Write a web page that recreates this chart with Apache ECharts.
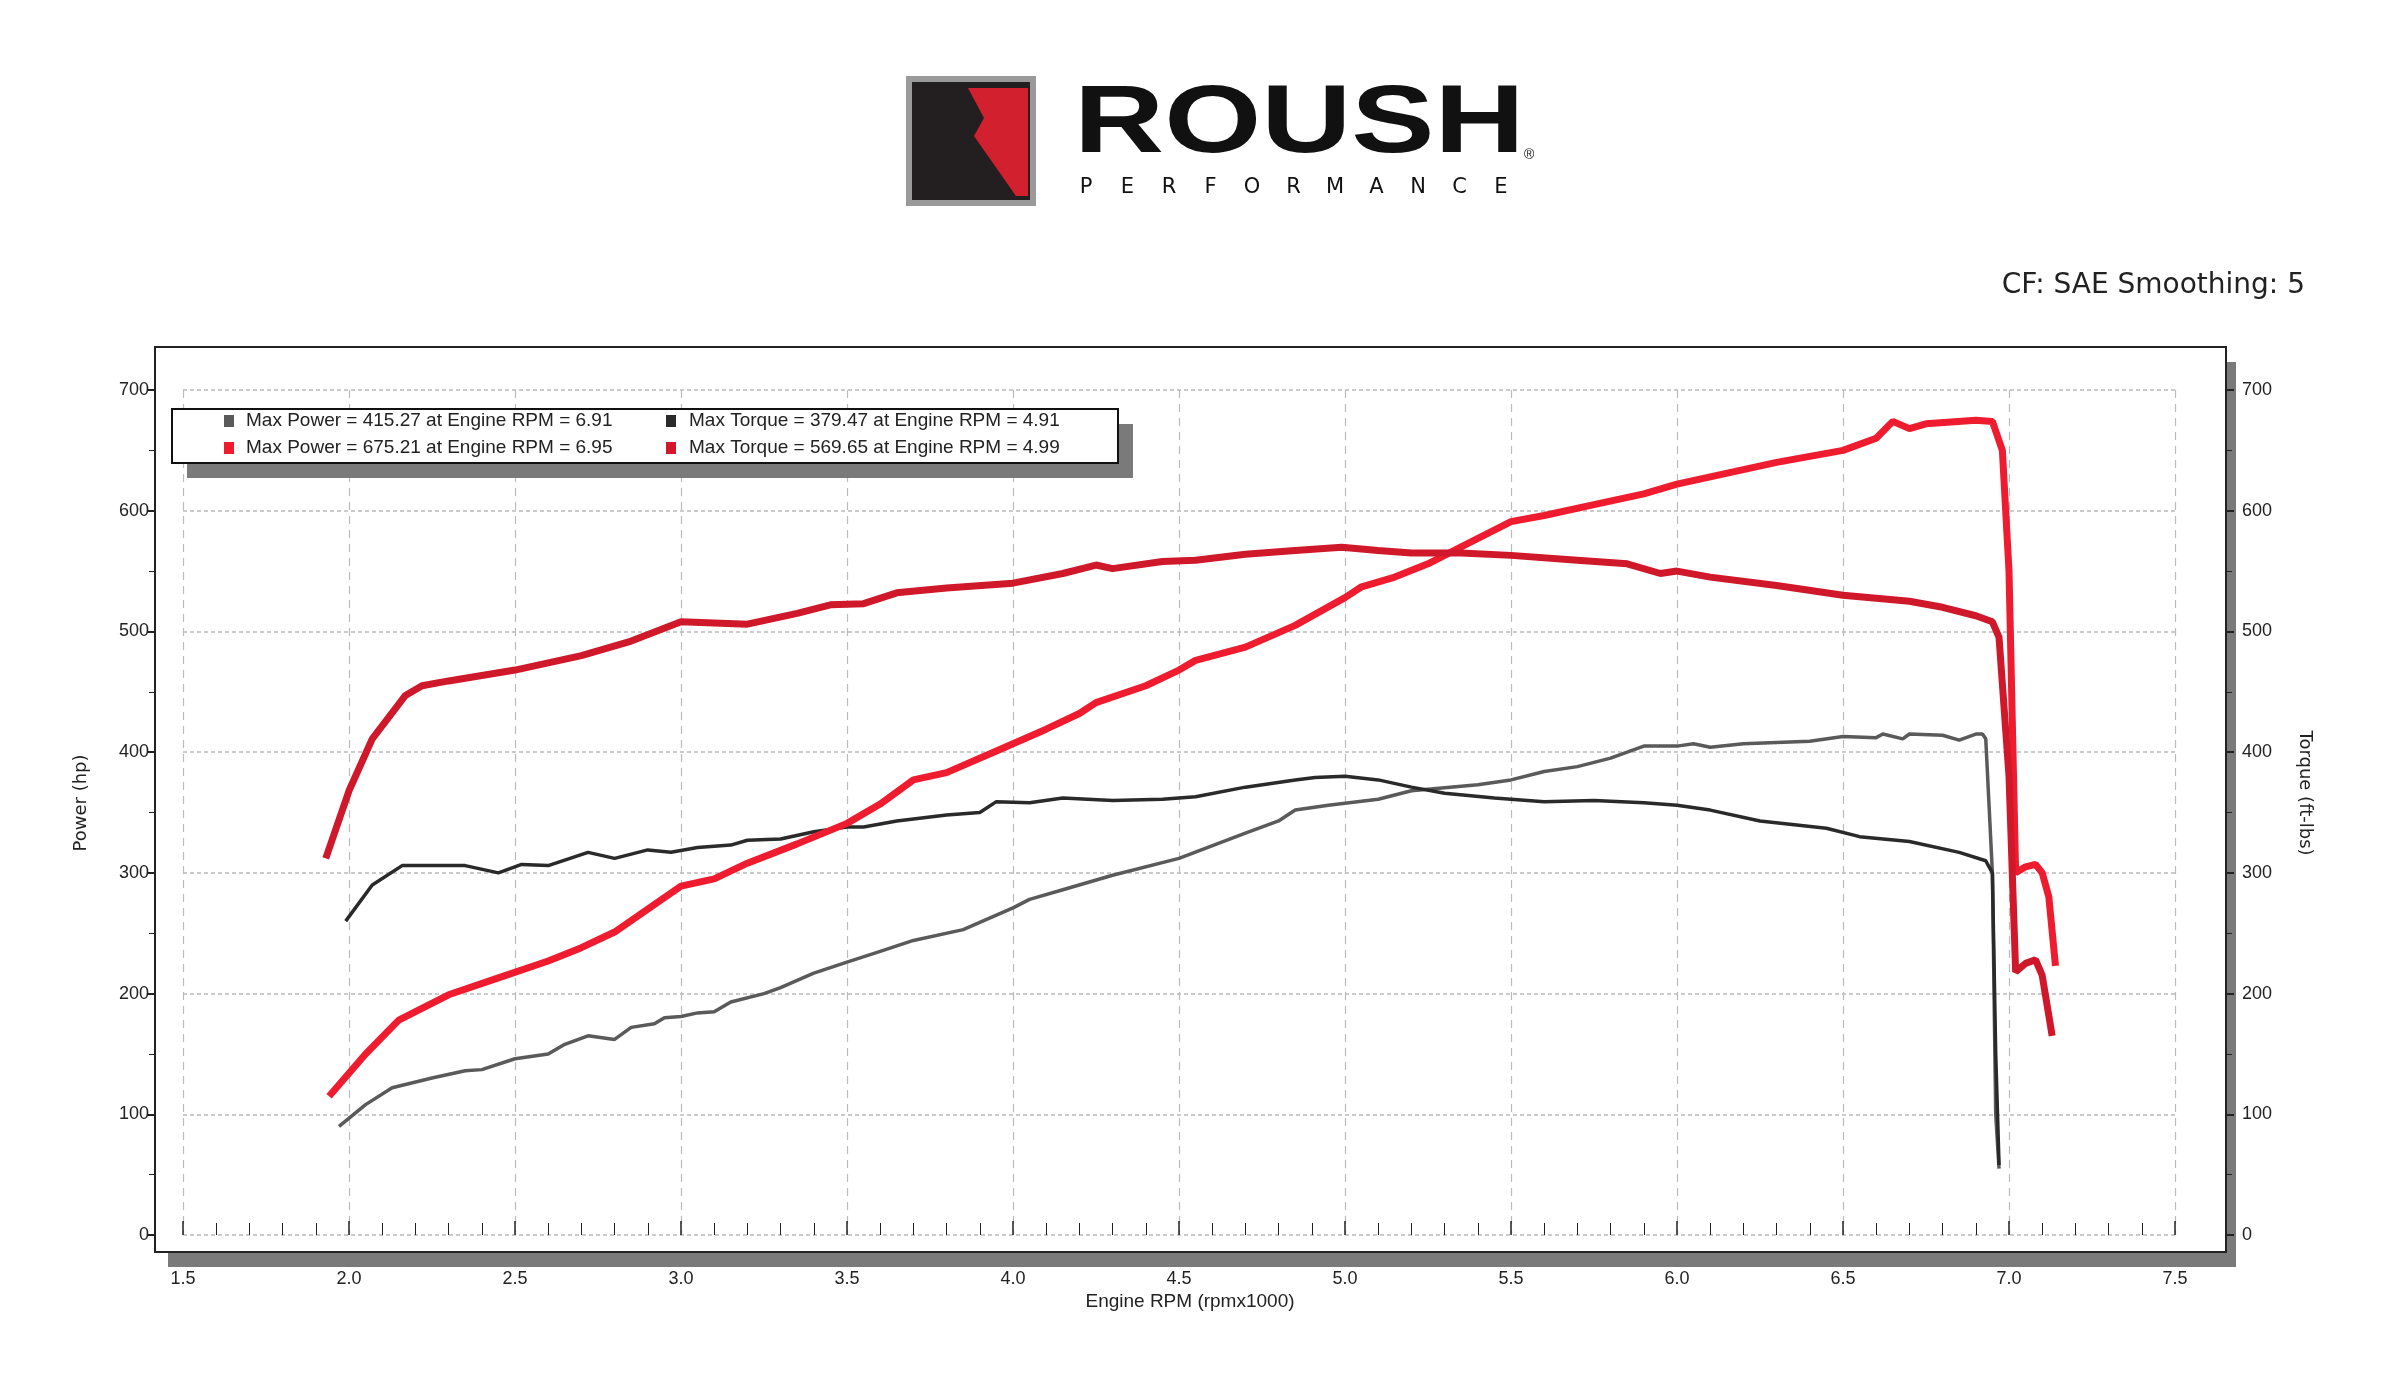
<!DOCTYPE html>
<html>
<head>
<meta charset="utf-8">
<script src="https://cdn.jsdelivr.net/npm/echarts@6/dist/echarts.min.js"></script>
<style>html,body{margin:0;padding:0;background:#fff}#chart{width:2400px;height:1389px}</style>
</head>
<body>
<div id="chart"></div>
<script>
// rpm (x1000) / value pairs
var stockPower = [[1.97,90],[2.05,108],[2.13,122],[2.25,130],[2.35,136],[2.4,137],[2.5,146],[2.6,150],[2.65,158],[2.72,165],[2.8,162],[2.85,172],[2.92,175],[2.95,180],[3.0,181],[3.05,184],[3.1,185],[3.15,193],[3.25,200],[3.3,205],[3.4,217],[3.5,226],[3.6,235],[3.7,244],[3.85,253],[4.0,271],[4.05,278],[4.15,286],[4.3,298],[4.5,312],[4.7,333],[4.8,343],[4.85,352],[4.95,356],[5.1,361],[5.2,368],[5.4,373],[5.5,377],[5.6,384],[5.7,388],[5.8,395],[5.9,405],[6.0,405],[6.05,407],[6.1,404],[6.2,407],[6.3,408],[6.4,409],[6.5,413],[6.6,412],[6.62,415],[6.68,411],[6.7,415],[6.8,414],[6.85,410],[6.9,415],[6.92,415],[6.93,411],[6.95,300],[6.96,100],[6.97,55]];
var stockTorque = [[1.99,260],[2.07,290],[2.16,306],[2.35,306],[2.45,300],[2.52,307],[2.6,306],[2.72,317],[2.8,312],[2.9,319],[2.97,317],[3.05,321],[3.15,323],[3.2,327],[3.3,328],[3.4,334],[3.5,338],[3.55,338],[3.65,343],[3.8,348],[3.9,350],[3.95,359],[4.05,358],[4.15,362],[4.3,360],[4.45,361],[4.55,363],[4.7,371],[4.85,377],[4.91,379],[5.0,380],[5.1,377],[5.2,371],[5.3,366],[5.45,362],[5.6,359],[5.75,360],[5.9,358],[6.0,356],[6.1,352],[6.25,343],[6.45,337],[6.55,330],[6.7,326],[6.85,317],[6.93,310],[6.95,300],[6.96,150],[6.97,58]];
var tunedPower = [[1.94,115],[2.05,150],[2.15,178],[2.3,199],[2.45,213],[2.6,227],[2.7,238],[2.8,251],[3.0,289],[3.1,295],[3.2,308],[3.35,324],[3.5,341],[3.6,357],[3.7,377],[3.8,383],[3.95,401],[4.1,419],[4.2,432],[4.25,441],[4.4,455],[4.5,468],[4.55,476],[4.7,487],[4.85,505],[5.0,528],[5.05,537],[5.15,545],[5.25,556],[5.35,570],[5.5,591],[5.6,596],[5.75,605],[5.9,614],[6.0,622],[6.1,628],[6.3,640],[6.5,650],[6.6,660],[6.65,674],[6.7,668],[6.75,672],[6.9,675],[6.95,674],[6.98,650],[7.0,550],[7.02,300],[7.05,305],[7.08,307],[7.1,300],[7.12,280],[7.14,223]];
var tunedTorque = [[1.93,312],[2.0,368],[2.07,411],[2.17,447],[2.22,455],[2.3,459],[2.5,468],[2.7,480],[2.85,492],[3.0,508],[3.1,507],[3.2,506],[3.35,515],[3.45,522],[3.55,523],[3.65,532],[3.8,536],[4.0,540],[4.15,548],[4.25,555],[4.3,552],[4.45,558],[4.55,559],[4.7,564],[4.85,567],[4.99,569.65],[5.1,567],[5.2,565],[5.35,565],[5.5,563],[5.7,559],[5.85,556],[5.95,548],[6.0,550],[6.1,545],[6.3,538],[6.5,530],[6.7,525],[6.8,520],[6.9,513],[6.95,508],[6.97,495],[7.0,380],[7.02,218],[7.05,225],[7.08,228],[7.1,215],[7.13,165]];
var legendRows = [
  ['Max Power = 415.27 at Engine RPM = 6.91', '#5a5a5a', 'Max Torque = 379.47 at Engine RPM = 4.91', '#2a2a2a'],
  ['Max Power = 675.21 at Engine RPM = 6.95', '#ee1c2e', 'Max Torque = 569.65 at Engine RPM = 4.99', '#d0182b']
];

var FONT = "'Liberation Sans Narrow','Liberation Sans',sans-serif";
var chart = echarts.init(document.getElementById('chart'));

var graphics = [
  // frame shadow + frame
  {type:'rect', shape:{x:168,y:362,width:2068,height:905}, style:{fill:'#7a7a7a'}, z:0},
  {type:'rect', shape:{x:155,y:347,width:2071,height:905}, style:{fill:'#fff',stroke:'#222',lineWidth:2}, z:0},
  // logo
  {type:'rect', shape:{x:906,y:76,width:130,height:130}, style:{fill:'#9a9a9a'}},
  {type:'rect', shape:{x:912,y:82,width:118,height:118}, style:{fill:'#231f20'}},
  {type:'polygon', shape:{points:[[968,88],[1028,88],[1028,196],[1016,196],[974,136],[984,118]]}, style:{fill:'#d2202f'}},
  {type:'text', x:1074, y:78, scaleX:1.3, style:{text:'ROUSH', font:'900 96px "Liberation Sans",sans-serif', fill:'#111'}},
  {type:'text', x:1524, y:148, style:{text:'®', font:'14px sans-serif', fill:'#111'}},
  {type:'text', right:95, top:272, style:{text:'CF: SAE Smoothing: 5', font:'28px "DejaVu Sans",sans-serif', fill:'#222'}},
  {type:'text', rotation:Math.PI/2, x:81, y:803, style:{text:'Power (hp)', font:'18px "DejaVu Sans",sans-serif', fill:'#222', align:'center', verticalAlign:'middle'}},
  {type:'text', rotation:-Math.PI/2, x:2305, y:793, style:{text:'Torque (ft-lbs)', font:'18px "DejaVu Sans",sans-serif', fill:'#222', align:'center', verticalAlign:'middle'}},
  {type:'text', x:1190, y:1302, style:{text:'Engine RPM (rpmx1000)', font:'19px '+FONT, fill:'#222', align:'center', verticalAlign:'middle'}},
  // legend box
  {type:'rect', shape:{x:187,y:424,width:946,height:54}, style:{fill:'#7a7a7a'}, z:20},
  {type:'rect', shape:{x:172,y:409,width:946,height:54}, style:{fill:'#fff',stroke:'#111',lineWidth:2}, z:21}
];

var letters = 'PERFORMANCE'.split('');
letters.forEach(function (c, i) {
  graphics.push({type:'text', x:1086 + i * 41.5, y:188, style:{text:c, font:'21px "DejaVu Sans",sans-serif', fill:'#111', align:'center', verticalAlign:'middle'}});
});
legendRows.forEach(function (r, i) {
  var y = 421 + i * 27;
  graphics.push({type:'rect', shape:{x:224,y:y-6,width:10,height:12}, style:{fill:r[1]}, z:22});
  graphics.push({type:'text', x:246, y:y, style:{text:r[0], font:'19px '+FONT, fill:'#222', verticalAlign:'middle'}, z:22});
  graphics.push({type:'rect', shape:{x:666,y:y-6,width:10,height:12}, style:{fill:r[3]}, z:22});
  graphics.push({type:'text', x:689, y:y, style:{text:r[2], font:'19px '+FONT, fill:'#222', verticalAlign:'middle'}, z:22});
});

function yAx(pos, off) {
  return {
    type:'value', position:pos, offset:off, min:0, max:700, interval:100,
    axisLine:{show:false},
    axisTick:{show:true, length:8, lineStyle:{color:'#222', width:2}},
    minorTick:{show:true, splitNumber:2, length:6, lineStyle:{color:'#222'}},
    axisLabel:{color:'#222', fontFamily:FONT, fontSize:18, margin:pos==='left' ? 6 : 16},
    splitLine:{show:pos==='left', lineStyle:{color:'#bbb', type:[4,3], width:1.5}}
  };
}

chart.setOption({
  animation:false,
  graphic:graphics,
  grid:{left:183, width:1992, top:390, height:845},
  xAxis:{
    type:'value', min:1.5, max:7.5, interval:0.5, offset:17,
    axisLine:{show:false},
    axisTick:{show:true, inside:true, length:14, lineStyle:{color:'#222', width:1.5}},
    minorTick:{show:true, splitNumber:5, length:12, lineStyle:{color:'#222'}},
    axisLabel:{color:'#222', fontFamily:FONT, fontSize:18, margin:18, formatter:function(v){return v.toFixed(1);}},
    splitLine:{show:true, lineStyle:{color:'#bbb', type:[8,6], width:1.2}}
  },
  yAxis:[yAx('left', 28), yAx('right', 51)],
  series:[
    {type:'line', data:stockPower, showSymbol:false, lineStyle:{color:'#5a5a5a', width:3.5}, z:5},
    {type:'line', data:stockTorque, showSymbol:false, lineStyle:{color:'#2a2a2a', width:3.5}, z:5},
    {type:'line', data:tunedPower, showSymbol:false, lineStyle:{color:'#ee1c2e', width:7}, z:6},
    {type:'line', data:tunedTorque, showSymbol:false, lineStyle:{color:'#d0182b', width:7}, z:6}
  ]
});
</script>
</body>
</html>
